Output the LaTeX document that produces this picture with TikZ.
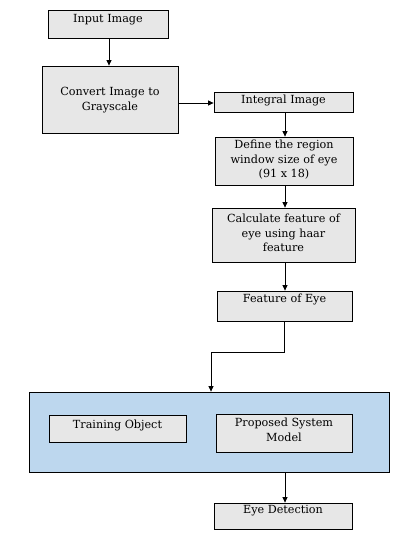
\documentclass[tikz,border=0pt]{standalone}
\usepackage{fontspec}
\setmainfont{DejaVu Serif}
\usetikzlibrary{arrows.meta}
\definecolor{boxgray}{HTML}{E7E7E7}
\definecolor{boxblue}{HTML}{BDD7EE}
\begin{document}
\begin{tikzpicture}[x=1pt,y=-1pt,
  box/.style={draw=black, line width=0.8pt, fill=boxgray, inner sep=0pt},
  bluebox/.style={draw=black, line width=0.8pt, fill=boxblue, inner sep=0pt},
  txt/.style={inner sep=0pt, align=center, font=\fontsize{11.2}{14.5}\selectfont},
  conn/.style={line width=0.8pt, -{Triangle[length=5.5pt,width=5pt]}}
]
\useasboundingbox[fill=white] (0,0) rectangle (419,541);
% boxes
\node[box, minimum width=120pt, minimum height=28pt] (in) at (108,24) {};
\node[txt] (inT) at (108,20) {Input Image};
\node[box, minimum width=136pt, minimum height=67pt] (conv) at (110,99.5) {};
\node[txt] (convT) at (110,100) {Convert Image to\\Grayscale};
\node[box, minimum width=139pt, minimum height=20pt] (int) at (283.5,102) {};
\node[txt] (intT) at (283.5,100.5) {Integral Image};
\node[box, minimum width=138pt, minimum height=48pt] (def) at (284,161) {};
\node[txt] (defT) at (284,160) {Define the region\\window size of eye\\(91 x 18)};
\node[box, minimum width=143pt, minimum height=54pt] (calc) at (283.5,235) {};
\node[txt] (calcT) at (283.5,233) {Calculate feature of\\eye using haar\\feature};
\node[box, minimum width=135pt, minimum height=30pt] (feat) at (284.5,306) {};
\node[txt] (featT) at (284.5,299) {Feature of Eye};
\node[bluebox, minimum width=360pt, minimum height=80pt] (blue) at (209,432) {};
\node[box, minimum width=137pt, minimum height=27pt] (train) at (117.5,428.5) {};
\node[txt] (trainT) at (117.5,425) {Training Object};
\node[box, minimum width=136pt, minimum height=38pt] (prop) at (284,433) {};
\node[txt] (propT) at (284,430) {Proposed System\\Model};
\node[box, minimum width=138pt, minimum height=26pt] (eye) at (283,516) {};
\node[txt] (eyeT) at (283,511) {Eye Detection};
% connectors
\draw[conn] (in.south -| 109,0) -- (conv.north -| 109,0);
\draw[conn] (conv.east |- 0,103) -- (int.west |- 0,103);
\draw[conn] (int.south -| 285,0) -- (def.north -| 285,0);
\draw[conn] (def.south -| 285,0) -- (calc.north -| 285,0);
\draw[conn] (calc.south -| 285,0) -- (feat.north -| 285,0);
\coordinate (bend) at (211,352);
\draw[conn] (feat.south) |- (bend) -- (bend |- blue.north);
\draw[conn] (blue.south -| 285,0) -- (eye.north -| 285,0);
\end{tikzpicture}
\end{document}
